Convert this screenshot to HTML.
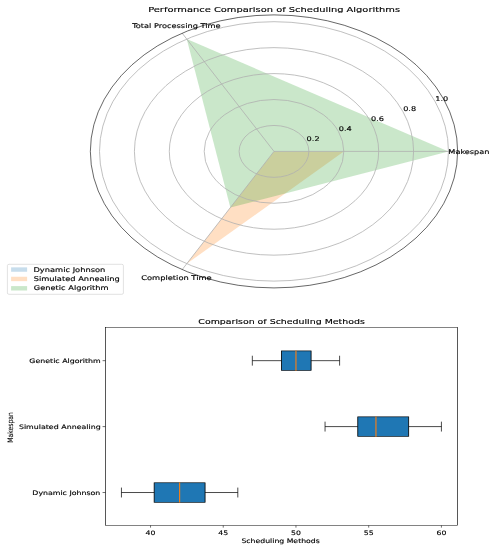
<!DOCTYPE html>
<html><head><meta charset="utf-8"><title>Scheduling Algorithms</title>
<style>html,body{margin:0;padding:0;background:#fff}svg{display:block}text{stroke:#000;stroke-width:0.14px}text.thin{stroke-width:.04px}</style></head>
<body>
<svg width="494" height="550" viewBox="0 0 367.943 550" preserveAspectRatio="none" font-family="'DejaVu Sans', 'Liberation Sans', sans-serif" fill="#000">
<g id="polar">
<polygon points="204.08,151.40 204.08,151.40 204.08,151.40" fill="#1f77b4" fill-opacity="0.25"/>
<polygon points="256.07,151.40 204.08,151.40 139.10,263.72" fill="#ff7f0e" fill-opacity="0.25"/>
<polygon points="334.04,151.40 139.10,39.08 171.59,207.56" fill="#2ca02c" fill-opacity="0.25"/>
<ellipse cx="204.08" cy="151.40" rx="25.99" ry="25.94" fill="none" stroke="#b0b0b0" stroke-width="0.680"/>
<ellipse cx="204.08" cy="151.40" rx="51.98" ry="51.88" fill="none" stroke="#b0b0b0" stroke-width="0.680"/>
<ellipse cx="204.08" cy="151.40" rx="77.98" ry="77.82" fill="none" stroke="#b0b0b0" stroke-width="0.680"/>
<ellipse cx="204.08" cy="151.40" rx="103.97" ry="103.76" fill="none" stroke="#b0b0b0" stroke-width="0.680"/>
<ellipse cx="204.08" cy="151.40" rx="129.96" ry="129.70" fill="none" stroke="#b0b0b0" stroke-width="0.680"/>
<line x1="204.08" y1="151.40" x2="340.86" y2="151.40" stroke="#b0b0b0" stroke-width="0.680"/>
<line x1="204.08" y1="151.40" x2="135.69" y2="33.18" stroke="#b0b0b0" stroke-width="0.680"/>
<line x1="204.08" y1="151.40" x2="135.69" y2="269.62" stroke="#b0b0b0" stroke-width="0.680"/>
<ellipse cx="204.08" cy="151.40" rx="136.78" ry="136.51" fill="none" stroke="#000" stroke-width="0.512"/>
<text id="r0" transform="translate(233.204 140.800) scale(0.9500 1.0000)" font-size="6.400" text-anchor="middle">0.2</text>
<text id="r1" transform="translate(257.170 130.873) scale(0.9500 1.0000)" font-size="6.400" text-anchor="middle">0.4</text>
<text id="r2" transform="translate(281.135 120.946) scale(0.9500 1.0000)" font-size="6.400" text-anchor="middle">0.6</text>
<text id="r3" transform="translate(305.101 111.020) scale(0.9500 1.0000)" font-size="6.400" text-anchor="middle">0.8</text>
<text id="r4" transform="translate(329.066 101.093) scale(0.9500 1.0000)" font-size="6.400" text-anchor="middle">1.0</text>
<text id="th0" transform="translate(333.942 153.750) scale(0.9501 1.0000)" font-size="6.400">Makespan</text>
<text id="th1" transform="translate(98.447 28.200) scale(0.9582 1.0000)" font-size="6.400">Total Processing Time</text>
<text id="th2" transform="translate(105.150 279.800) scale(0.9682 1.0000)" font-size="6.400">Completion Time</text>
<text id="title1" transform="translate(110.364 11.600) scale(0.9589 1.0000)" font-size="7.680">Performance Comparison of Scheduling Algorithms</text>
</g>
<g id="legend">
<rect x="5.51" y="264.30" width="86.40" height="30.00" rx="1.28" ry="1.28" fill="#fff" fill-opacity="0.8" stroke="#ccc" stroke-opacity="0.8" stroke-width="0.640"/>
<rect x="8.27" y="267.35" width="11.92" height="4.40" fill="#1f77b4" fill-opacity="0.25"/>
<text id="lg0" transform="translate(24.877 271.600) scale(0.9686 1.0000)" font-size="6.400">Dynamic Johnson</text>
<rect x="8.27" y="276.75" width="11.92" height="4.40" fill="#ff7f0e" fill-opacity="0.25"/>
<text id="lg1" transform="translate(25.045 281.000) scale(0.9670 1.0000)" font-size="6.400">Simulated Annealing</text>
<rect x="8.27" y="286.10" width="11.92" height="4.40" fill="#2ca02c" fill-opacity="0.25"/>
<text id="lg2" transform="translate(25.194 290.400) scale(0.9597 1.0000)" font-size="6.400">Genetic Algorithm</text>
</g>
<g id="box">
<rect x="114.83" y="482.78" width="37.91" height="19.52" fill="#1f77b4" stroke="#000" stroke-width="0.610"/>
<path d="M90.46 492.53H114.83M152.74 492.53H177.12M90.46 487.59V497.48M177.12 487.59V497.48" stroke="#000" stroke-width="0.610" fill="none"/>
<path d="M133.79 482.47V502.60" stroke="#ff7f0e" stroke-width="0.820"/>
<rect x="266.48" y="416.84" width="37.91" height="19.52" fill="#1f77b4" stroke="#000" stroke-width="0.610"/>
<path d="M242.11 426.60H266.48M304.39 426.60H328.77M242.11 421.65V431.54M328.77 421.65V431.54" stroke="#000" stroke-width="0.610" fill="none"/>
<path d="M280.02 416.54V436.66" stroke="#ff7f0e" stroke-width="0.820"/>
<rect x="209.61" y="350.91" width="22.10" height="19.52" fill="#1f77b4" stroke="#000" stroke-width="0.610"/>
<path d="M187.95 360.67H209.61M231.71 360.67H252.94M187.95 355.72V365.61M252.94 355.72V365.61" stroke="#000" stroke-width="0.610" fill="none"/>
<path d="M220.44 350.60V370.73" stroke="#ff7f0e" stroke-width="0.820"/>
<rect x="78.54" y="327.70" width="262.14" height="197.80" fill="none" stroke="#000" stroke-width="0.488"/>
<path d="M112.12 525.50V527.63" stroke="#000" stroke-width="0.488"/>
<text id="xt0" transform="translate(112.122 534.500) scale(0.9500 1.0000)" font-size="6.100" text-anchor="middle">40</text>
<path d="M166.28 525.50V527.63" stroke="#000" stroke-width="0.488"/>
<text id="xt1" transform="translate(166.283 534.500) scale(0.9500 1.0000)" font-size="6.100" text-anchor="middle">45</text>
<path d="M220.44 525.50V527.63" stroke="#000" stroke-width="0.488"/>
<text id="xt2" transform="translate(220.444 534.500) scale(0.9500 1.0000)" font-size="6.100" text-anchor="middle">50</text>
<path d="M274.61 525.50V527.63" stroke="#000" stroke-width="0.488"/>
<text id="xt3" transform="translate(274.605 534.500) scale(0.9500 1.0000)" font-size="6.100" text-anchor="middle">55</text>
<path d="M328.77 525.50V527.63" stroke="#000" stroke-width="0.488"/>
<text id="xt4" transform="translate(328.767 534.500) scale(0.9500 1.0000)" font-size="6.100" text-anchor="middle">60</text>
<path d="M78.54 492.53H76.41" stroke="#000" stroke-width="0.488"/>
<text id="yt0" transform="translate(24.095 494.733) scale(0.9600 1.0000)" font-size="6.100">Dynamic Johnson</text>
<path d="M78.54 426.60H76.41" stroke="#000" stroke-width="0.488"/>
<text id="yt1" transform="translate(14.059 428.800) scale(0.9644 1.0000)" font-size="6.100">Simulated Annealing</text>
<path d="M78.54 360.67H76.41" stroke="#000" stroke-width="0.488"/>
<text id="yt2" transform="translate(21.823 362.867) scale(0.9619 1.0000)" font-size="6.100">Genetic Algorithm</text>
<text id="title2" transform="translate(147.717 324.000) scale(0.9584 1.0000)" font-size="7.320">Comparison of Scheduling Methods</text>
<text id="xlabel" transform="translate(179.819 542.900) scale(0.9465 1.0000)" font-size="6.100">Scheduling Methods</text>
<text id="ylabel" transform="translate(9.683 427.500) rotate(-90) scale(1.0000 0.9200)" font-size="6.100" text-anchor="middle" class="thin">Makespan</text>
</g>
</svg>
</body></html>
